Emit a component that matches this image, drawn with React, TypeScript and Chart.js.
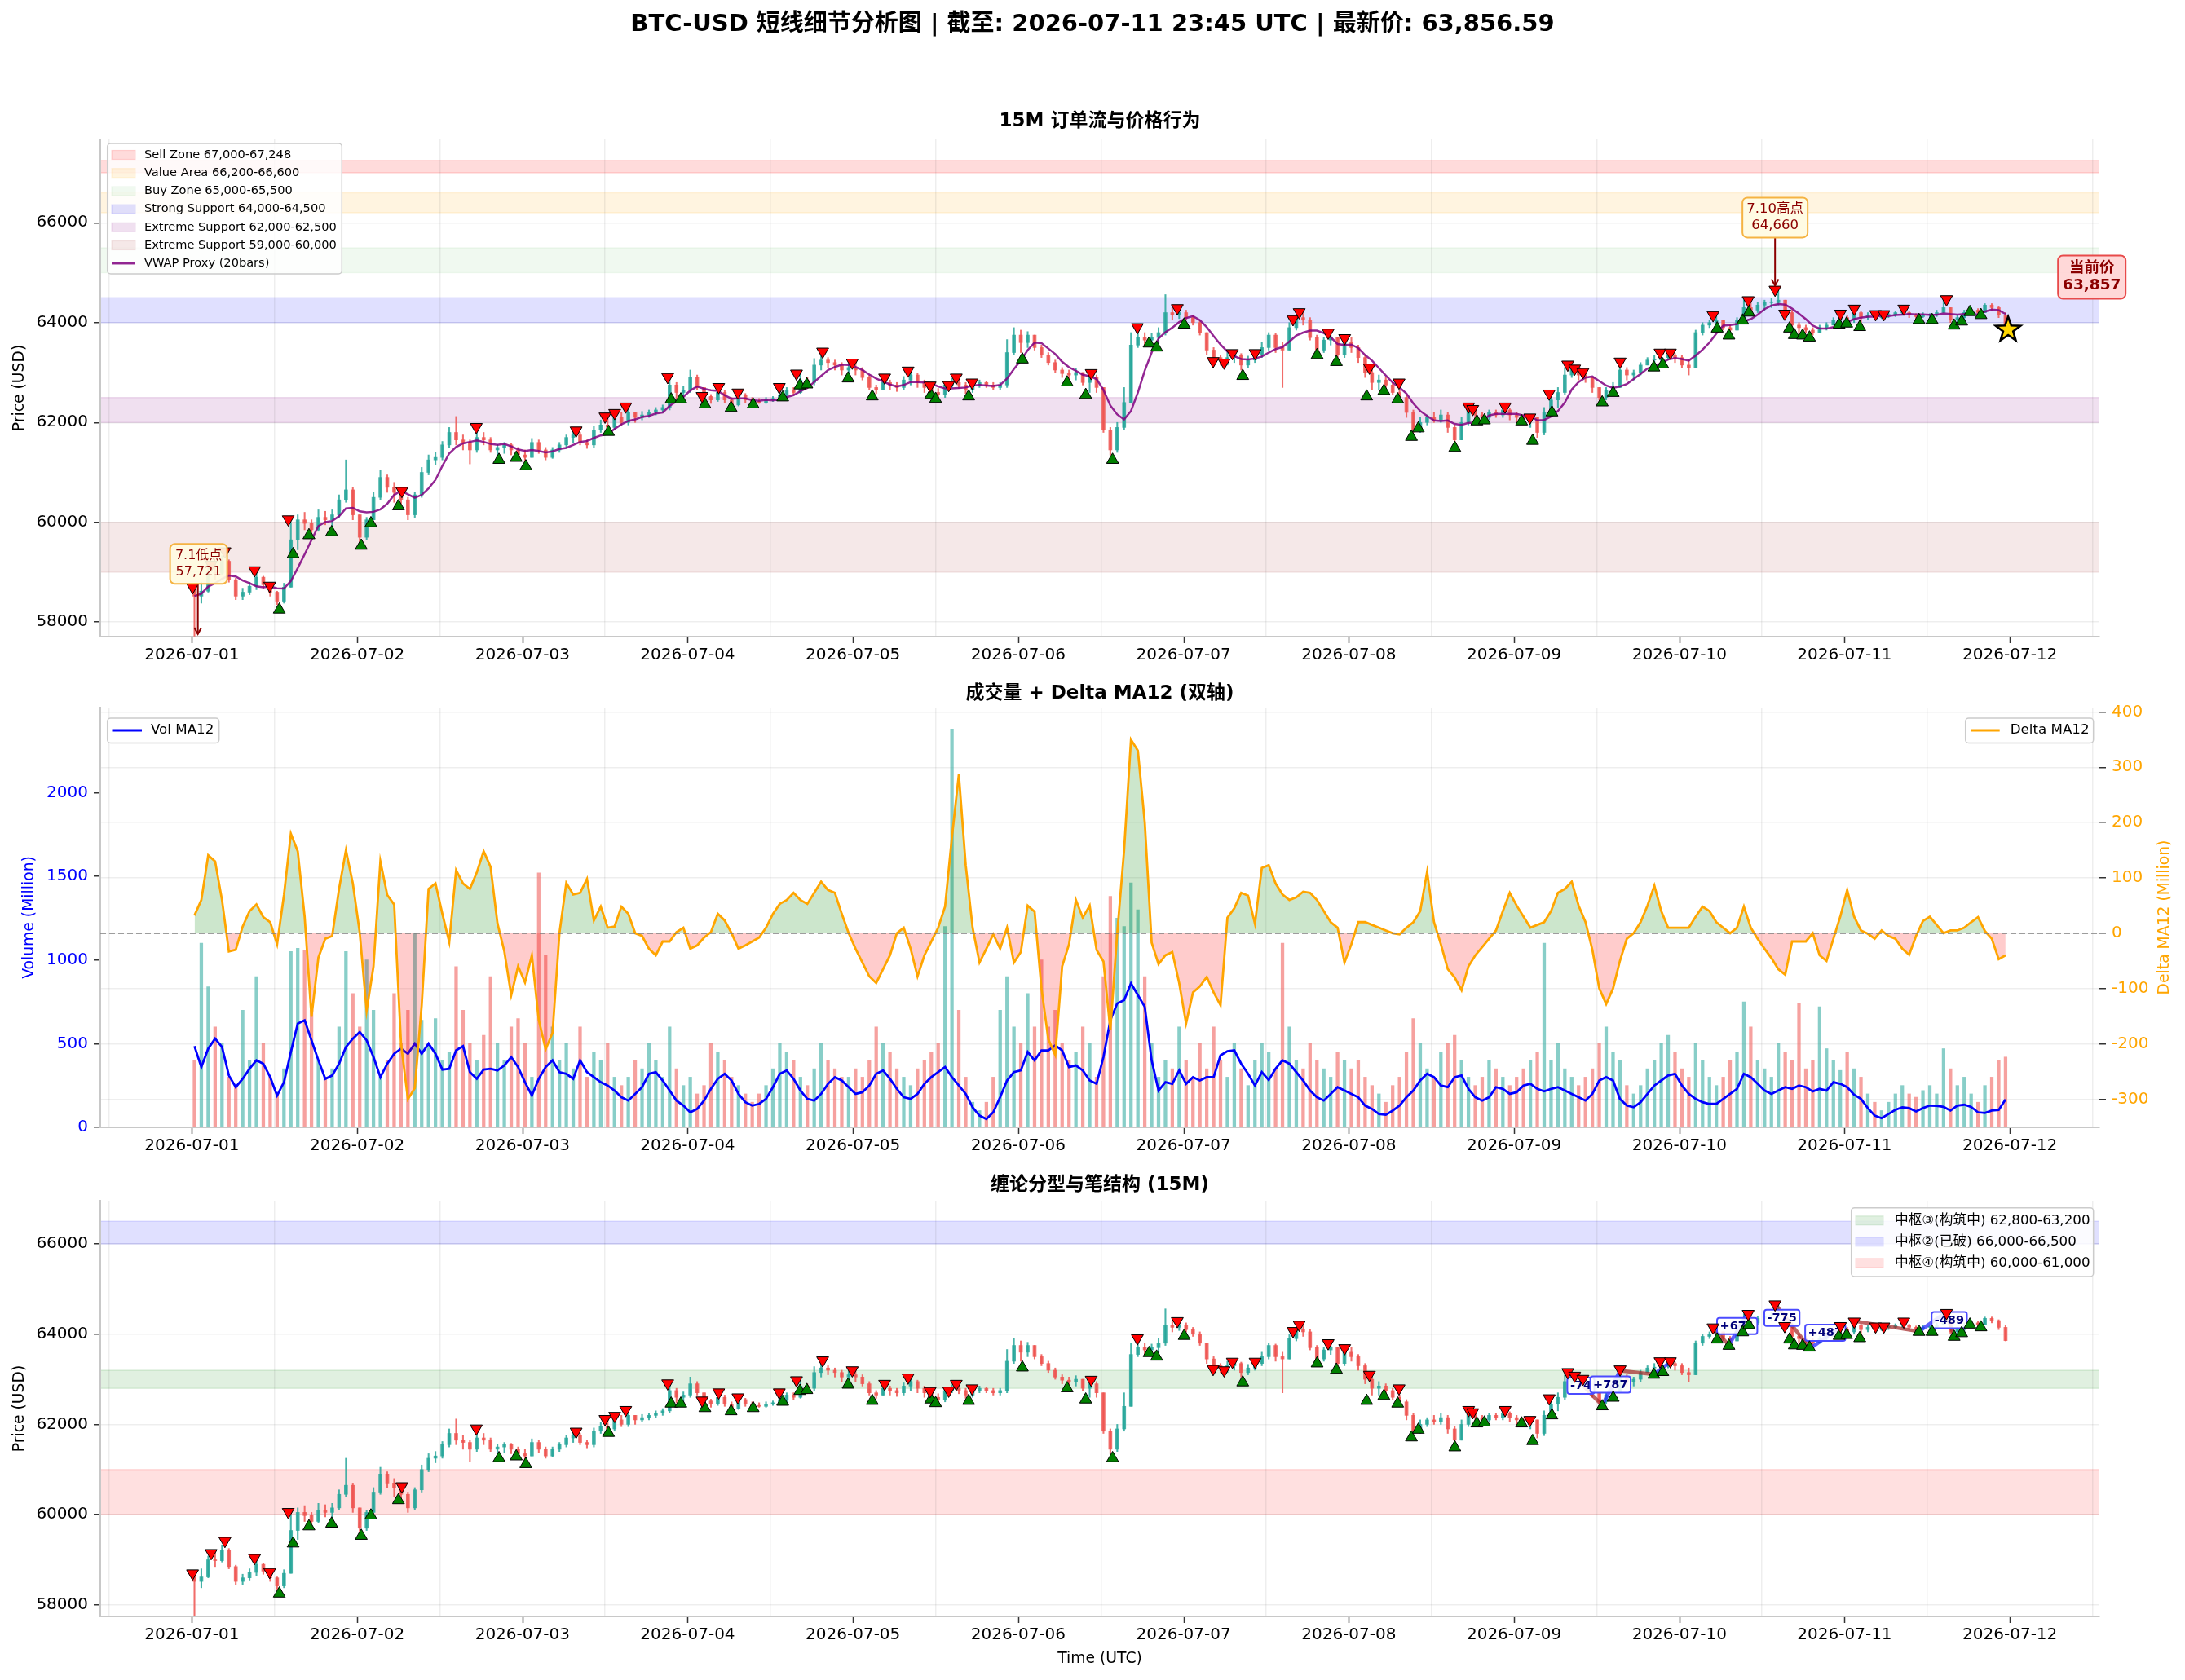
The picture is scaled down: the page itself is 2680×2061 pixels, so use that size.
import { useEffect, useRef } from 'react';
import { Chart, registerables } from 'chart.js';

Chart.register(...registerables);

// ---------------- data (15m session aggregated to hourly bars, hour 0 = 2026-07-01 00:00 UTC) ----------------
const dayLabels = ['2026-07-01', '2026-07-02', '2026-07-03', '2026-07-04', '2026-07-05', '2026-07-06', '2026-07-07', '2026-07-08', '2026-07-09', '2026-07-10', '2026-07-11', '2026-07-12'];
const dayTicks = [0, 24, 48, 72, 96, 120, 144, 168, 192, 216, 240, 264];

const firstOpen = 58650;
const closes = [
  58520, 58620, 59000, 58980, 59220, 58850, 58520, 58600, 58720, 58900, 58750, 58600, 58420, 58700, 59650, 60050, 59980, 59850, 60100, 60050, 60150, 60450, 60650, 60150,
  59700, 60050, 60500, 60900, 60700, 60600, 60450, 60150, 60550, 61000, 61250, 61300, 61550, 61800, 61650, 61600, 61450, 61700, 61650, 61450, 61500, 61550, 61450, 61350,
  61300, 61600, 61450, 61300, 61450, 61550, 61700, 61750, 61600, 61550, 61850, 61950, 61900, 62100, 62000, 62200, 62100, 62150, 62200, 62250, 62300, 62750, 62600, 62650,
  62900, 62700, 62520, 62450, 62600, 62450, 62350, 62550, 62450, 62420, 62400, 62450, 62480, 62550, 62650, 62600, 62850, 62800, 63150, 63250, 63200, 63150, 63050, 63100,
  63050, 62900, 62700, 62650, 62800, 62750, 62700, 62850, 62950, 62800, 62700, 62600, 62550, 62750, 62800, 62750, 62650, 62750, 62800, 62750, 62700, 62750, 63400, 63750,
  63600, 63750, 63500, 63350, 63200, 63050, 62980, 62950, 63000, 62800, 62900, 62700, 61850, 61450, 61900, 62400, 63550, 63700, 63650, 63700, 63800, 64200, 64150, 64200,
  64100, 64000, 63800, 63450, 63300, 63250, 63300, 63350, 63150, 63250, 63350, 63500, 63750, 63500, 63450, 63900, 64100, 64050, 63700, 63450, 63650, 63700, 63350, 63600,
  63500, 63300, 63000, 62800, 62850, 62750, 62600, 62500, 62200, 61850, 62000, 62100, 62050, 62150, 61900, 61650, 62000, 62250, 62150, 62100, 62200, 62150, 62250, 62150,
  62100, 62050, 62100, 61800, 62200, 62450, 62600, 62950, 63100, 62950, 62900, 62700, 62500, 62650, 62700, 63050, 62950, 63000, 63150, 63250, 63250, 63300, 63350, 63300,
  63150, 63100, 63800, 63950, 64000, 64050, 63900, 63850, 64050, 64300, 64250, 64350, 64400, 64400, 64450, 64200, 63950, 63900, 63850, 63800, 63900, 63950, 64050, 64100,
  64050, 64200, 64100, 64150, 64100, 64150, 64150, 64200, 64200, 64150, 64120, 64150, 64150, 64200, 64300, 64050, 64100, 64200, 64250, 64200, 64350, 64300, 64150, 63857,
];
const highs = [
  58700, 58800, 59080, 59150, 59330, 59250, 58880, 58680, 58800, 58980, 58920, 58780, 58620, 58780, 60000, 60150, 60200, 60050, 60250, 60220, 60250, 60550, 61250, 60700,
  60150, 60100, 60600, 61050, 60950, 60800, 60620, 60500, 60600, 61100, 61350, 61400, 61620, 61900, 62120, 61750, 61650, 61850, 61800, 61700, 61560, 61600, 61580, 61500,
  61450, 61680, 61650, 61500, 61500, 61600, 61750, 61850, 61800, 61650, 61920, 62050, 62100, 62180, 62200, 62320, 62200, 62220, 62250, 62300, 62350, 62900, 62800, 62720,
  63050, 62950, 62700, 62560, 62700, 62650, 62500, 62600, 62580, 62500, 62480, 62500, 62520, 62600, 62700, 62700, 62980, 62900, 63280, 63380, 63300, 63250, 63200, 63180,
  63200, 63100, 62950, 62750, 62880, 62850, 62800, 62920, 63020, 62980, 62850, 62700, 62680, 62800, 62880, 62900, 62800, 62800, 62850, 62830, 62800, 62800, 63660, 63900,
  63850, 63820, 63750, 63550, 63400, 63250, 63100, 63050, 63080, 63000, 62980, 62950, 62700, 61900, 62000, 62700, 63800, 63900, 63800, 63780, 63900, 64560, 64300, 64300,
  64250, 64150, 64050, 63800, 63500, 63350, 63400, 63420, 63380, 63330, 63400, 63600, 63800, 63780, 63600, 64000, 64150, 64200, 64100, 63750, 63700, 63780, 63700, 63680,
  63700, 63550, 63350, 63050, 62950, 62900, 62800, 62650, 62550, 62250, 62100, 62150, 62200, 62250, 62200, 61950, 62100, 62300, 62280, 62200, 62250, 62250, 62300, 62280,
  62200, 62150, 62150, 62100, 62300, 62550, 62700, 63100, 63150, 63100, 63000, 62900, 62700, 62700, 62800, 63150, 63100, 63050, 63200, 63300, 63350, 63380, 63400, 63380,
  63350, 63250, 63850, 64000, 64050, 64150, 64050, 63950, 64100, 64450, 64420, 64400, 64450, 64480, 64660, 64450, 64250, 64000, 63950, 63900, 63950, 64000, 64100, 64150,
  64150, 64250, 64220, 64200, 64150, 64180, 64200, 64230, 64260, 64220, 64180, 64200, 64180, 64250, 64450, 64300, 64150, 64250, 64300, 64280, 64380, 64380, 64320, 64200,
];
const lows = [
  57721, 58380, 58600, 58850, 58950, 58800, 58450, 58450, 58550, 58650, 58680, 58520, 58350, 58380, 58700, 59450, 59850, 59800, 59820, 59950, 59900, 60100, 60400, 60050,
  59600, 59650, 60050, 60450, 60600, 60400, 60300, 60050, 60100, 60500, 60950, 61150, 61250, 61500, 61550, 61450, 61170, 61400, 61550, 61400, 61350, 61380, 61350, 61250,
  61200, 61300, 61380, 61250, 61280, 61400, 61500, 61600, 61550, 61480, 61500, 61800, 61850, 61850, 61950, 61950, 62000, 62050, 62100, 62150, 62200, 62250, 62480, 62480,
  62600, 62650, 62450, 62380, 62420, 62400, 62300, 62330, 62400, 62380, 62380, 62380, 62420, 62450, 62500, 62550, 62580, 62680, 62750, 63050, 63100, 63050, 62950, 62950,
  62950, 62850, 62650, 62580, 62650, 62650, 62620, 62650, 62750, 62700, 62600, 62500, 62480, 62500, 62700, 62680, 62580, 62600, 62700, 62700, 62650, 62650, 62700, 63350,
  63400, 63500, 63450, 63300, 63150, 63000, 62900, 62880, 62850, 62750, 62600, 62600, 61800, 61350, 61400, 61850, 62400, 63500, 63550, 63600, 63550, 63750, 64050, 64080,
  64050, 63950, 63750, 63350, 63250, 63150, 63150, 63200, 63050, 63100, 63200, 63300, 63450, 63400, 62700, 63450, 63850, 63950, 63650, 63400, 63400, 63550, 63300, 63300,
  63400, 63200, 62900, 62650, 62650, 62700, 62550, 62500, 62100, 61800, 61800, 61950, 62000, 62000, 61800, 61600, 61650, 61950, 62050, 62050, 62050, 62100, 62100, 62050,
  62000, 62000, 61900, 61700, 61750, 62200, 62300, 62550, 62900, 62850, 62800, 62600, 62450, 62450, 62650, 62700, 62850, 62850, 62950, 63150, 63150, 63200, 63250, 63200,
  63100, 62950, 63100, 63750, 63900, 63950, 63850, 63800, 63850, 64000, 64200, 64200, 64250, 64300, 64350, 64100, 63900, 63800, 63800, 63750, 63800, 63850, 63950, 64000,
  64000, 64000, 64000, 64050, 64050, 64080, 64100, 64120, 64150, 64100, 64080, 64100, 64100, 64120, 64200, 64000, 64000, 64050, 64150, 64150, 64200, 64250, 64100, 63850,
];
// volume per bar (Million)
const volumes = [
  400, 1100, 840, 600, 500, 300, 250, 700, 400, 900, 500, 300, 200, 350, 1050, 1070, 1060, 700, 400, 300, 350, 600, 1050, 800,
  600, 1000, 700, 300, 400, 800, 500, 700, 1160, 640, 500, 650, 400, 450, 960, 700, 500, 400, 550, 900, 500, 400, 600, 650,
  500, 300, 1520, 1030, 600, 400, 500, 350, 600, 300, 450, 400, 500, 300, 250, 300, 400, 350, 500, 400, 300, 600, 350, 250,
  300, 200, 250, 500, 450, 400, 300, 250, 200, 150, 200, 250, 350, 500, 450, 400, 300, 250, 350, 500, 400, 350, 300, 300,
  350, 300, 400, 600, 500, 450, 350, 300, 250, 350, 400, 450, 500, 1200, 2380, 700, 300, 150, 100, 150, 300, 700, 900, 600,
  500, 800, 600, 1000, 600, 700, 500, 400, 450, 600, 500, 300, 900, 1380, 1250, 1200, 1460, 1300, 900, 500, 300, 400, 350, 600,
  400, 300, 500, 350, 600, 400, 300, 500, 350, 250, 400, 500, 450, 350, 1100, 600, 400, 350, 500, 400, 350, 300, 450, 400,
  350, 400, 300, 250, 200, 150, 250, 300, 450, 650, 500, 350, 300, 450, 500, 550, 400, 300, 250, 300, 400, 350, 300, 250,
  300, 350, 400, 450, 1100, 400, 500, 350, 300, 250, 300, 350, 500, 600, 450, 400, 250, 200, 250, 350, 400, 500, 550, 450,
  350, 300, 500, 400, 300, 250, 300, 400, 450, 750, 600, 400, 350, 300, 500, 450, 400, 740, 350, 400, 720, 470, 400, 340,
  450, 350, 300, 200, 150, 100, 150, 200, 250, 200, 180, 220, 250, 200, 470, 350, 250, 300, 200, 150, 250, 300, 400, 420,
];
const volMA12 = [
  485, 360, 470, 530, 480, 310, 240, 290, 350, 400, 380, 300, 190, 270, 450, 620, 640, 520, 400, 290, 310, 380, 480, 530,
  570, 520, 420, 300, 380, 440, 470, 440, 500, 440, 500, 440, 345, 350, 460, 485, 330, 290, 345, 350, 340, 370, 420, 360,
  270, 190, 290, 360, 400, 330, 320, 290, 400, 330, 300, 270, 250, 220, 180, 160, 200, 240, 320, 330, 280, 220, 160, 130,
  90, 110, 160, 230, 290, 320, 280, 200, 150, 130, 140, 170, 240, 320, 340, 290, 220, 170, 160, 200, 260, 300, 280, 240,
  200, 210, 250, 320, 340, 290, 230, 180, 170, 200, 260, 300, 330, 360, 300, 250, 200, 120, 70, 50, 90, 180, 280, 330,
  340, 450, 400, 460, 460, 490, 460, 360, 370, 340, 280, 260, 420, 640, 740, 760, 860, 790, 720, 400, 220, 270, 260, 340,
  260, 300, 280, 300, 300, 430, 455, 460, 380, 320, 250, 330, 283, 350, 400, 380, 330, 280, 220, 180, 160, 200, 240, 220,
  200, 180, 130, 110, 80, 75, 100, 130, 180, 220, 280, 320, 300, 250, 240, 300, 310, 230, 180, 160, 180, 240, 230, 200,
  210, 250, 260, 230, 215, 230, 240, 220, 200, 180, 160, 200, 280, 300, 280, 170, 130, 120, 150, 200, 250, 280, 310, 320,
  250, 200, 170, 150, 140, 140, 170, 200, 230, 320, 300, 260, 220, 200, 220, 240, 230, 250, 240, 215, 230, 220, 270, 260,
  240, 195, 170, 115, 70, 55, 80, 105, 120, 115, 95, 115, 130, 128, 122, 100, 130, 135, 122, 90, 86, 100, 104, 167,
];
const deltaMA12 = [
  32, 60, 141, 130, 60, -33, -30, 12, 40, 52, 29, 20, -20, 69, 180, 148, 30, -151, -44, -10, -5, 80, 150, 90,
  1, -140, -60, 130, 69, 52, -200, -300, -280, -130, 80, 90, 35, -16, 114, 90, 80, 110, 148, 120, 18, -33, -112, -60,
  -89, -40, -157, -210, -180, 0, 91, 70, 73, 98, 23, 48, 10, 12, 48, 35, 0, -5, -28, -40, -15, -15, 2, 10,
  -28, -22, -8, 2, 35, 23, 0, -28, -22, -15, -8, 10, 35, 53, 60, 73, 60, 53, 73, 93, 78, 73, 35, 0,
  -28, -53, -78, -90, -65, -40, 0, 10, -28, -78, -40, -15, 10, 48, 174, 287, 123, 10, -53, -28, -2, -28, 10, -53,
  -34, 50, 39, -100, -192, -220, -60, -20, 60, 28, 50, -30, -51, -175, 0, 150, 350, 330, 200, -17, -56, -40, -34, -90,
  -163, -107, -96, -79, -107, -130, 28, 45, 73, 68, 17, 118, 123, 90, 70, 60, 65, 75, 73, 60, 40, 20, 10, -53,
  -20, 20, 20, 15, 10, 5, 0, -2, 10, 20, 40, 111, 20, -20, -65, -80, -103, -60, -40, -25, -10, 5, 40, 73,
  50, 30, 10, 15, 20, 40, 73, 80, 93, 50, 20, -30, -100, -128, -100, -50, -10, 0, 20, 50, 86, 40, 10, 10,
  10, 10, 30, 48, 40, 20, 10, 0, 10, 48, 10, -10, -28, -45, -65, -75, -15, -15, -15, 0, -40, -50, -10, 30,
  78, 30, 5, -1, -10, 5, -5, -10, -28, -39, -5, 22, 30, 15, 0, 5, 5, 10, 20, 29, 4, -10, -47, -40,
];

const lastHour = 263.75;
const lastPrice = 63856.59;
const lowHour = 0.87;
const lowPrice = 57721;
const highHour = 229.9;
const highPrice = 64660;

// fractal tops / bottoms: [hour, price]
const fractalTops = [
  [0.1, 58700], [2.8, 59150], [4.8, 59420], [9.1, 59040], [11.3, 58730], [14.0, 60060], [30.5, 60630], [41.3, 61910],
  [55.8, 61840], [60.0, 62120], [61.4, 62190], [63.0, 62320], [69.1, 62910], [74.1, 62530], [76.5, 62710], [79.3, 62600],
  [85.3, 62710], [87.8, 62980], [91.6, 63420], [95.9, 63200], [100.6, 62900], [104.0, 63040], [107.2, 62740], [109.9, 62750],
  [111.0, 62900], [113.3, 62800], [130.6, 62990], [137.3, 63910], [143.1, 64290], [148.3, 63230], [149.9, 63200], [151.1, 63390],
  [154.4, 63390], [159.9, 64070], [160.8, 64210], [165.0, 63800], [167.4, 63690], [171.0, 63100], [175.3, 62800], [185.4, 62320],
  [186.0, 62270], [190.7, 62320], [194.3, 62100], [197.1, 62580], [199.8, 63160], [200.8, 63080], [202.0, 63010], [207.4, 63220],
  [213.2, 63400], [214.7, 63400], [220.9, 64150], [226.0, 64450], [229.9, 64660], [231.3, 64180], [239.4, 64180], [241.4, 64280],
  [244.5, 64170], [245.7, 64170], [248.6, 64280], [254.8, 64470],
];
const fractalBottoms = [
  [12.7, 58250], [14.7, 59360], [17.0, 59740], [20.3, 59800], [24.6, 59530], [26.0, 59980], [30.0, 60320], [44.6, 61250],
  [47.1, 61290], [48.5, 61120], [60.5, 61810], [69.6, 62460], [71.0, 62460], [74.5, 62360], [78.3, 62290], [81.5, 62360],
  [85.8, 62500], [88.3, 62740], [89.3, 62760], [95.3, 62880], [98.8, 62520], [107.3, 62550], [108.0, 62470], [112.8, 62520],
  [120.6, 63260], [127.1, 62800], [129.8, 62550], [133.7, 61250], [139.0, 63580], [140.1, 63500], [144.1, 63960], [152.6, 62930],
  [163.4, 63350], [166.2, 63210], [170.6, 62520], [173.1, 62630], [175.1, 62460], [177.1, 61710], [178.1, 61880], [183.4, 61490],
  [186.6, 62020], [187.7, 62040], [193.1, 62020], [194.7, 61630], [197.5, 62200], [204.8, 62400], [206.4, 62590], [212.3, 63100],
  [213.6, 63160], [221.5, 63880], [223.2, 63740], [225.2, 64040], [226.1, 64200], [232.0, 63880], [232.7, 63750], [233.9, 63740],
  [234.9, 63700], [239.2, 63960], [240.3, 63980], [242.2, 63910], [250.8, 64050], [252.7, 64050], [255.9, 63940], [257.0, 64020],
  [258.2, 64210], [259.8, 64150],
];

const zoneNames = ['Sell Zone 67,000-67,248', 'Value Area 66,200-66,600', 'Buy Zone 65,000-65,500', 'Strong Support 64,000-64,500', 'Extreme Support 62,000-62,500', 'Extreme Support 59,000-60,000'];
const zoneLows = [67000, 66200, 65000, 64000, 62000, 59000];
const zoneHighs = [67248, 66600, 65500, 64500, 62500, 60000];

const pivotNames = ['中枢③(构筑中) 62,800-63,200', '中枢②(已破) 66,000-66,500', '中枢④(构筑中) 60,000-61,000'];
const pivotLows = [62800, 66000, 60000];
const pivotHighs = [63200, 66500, 61000];

// 笔 strokes: [startHour, startPrice, endHour, endPrice]
const biDown = [
  [200.7, 63070, 204.8, 62420], [207.4, 63190, 212.3, 63110], [220.9, 64130, 223.2, 63760],
  [230.0, 64650, 235.0, 63680], [241.4, 64290, 250.8, 64060], [254.7, 64480, 255.9, 63960],
];
const biUp = [
  [204.8, 62420, 207.4, 63190], [212.3, 63110, 214.7, 63380], [223.2, 63760, 225.9, 64460],
  [235.0, 63680, 239.7, 64200], [250.8, 64060, 254.7, 64480],
];
const biText = ['-74', '+787', '+671', '-775', '+487', '-489'];
const biHour = [201.7, 206.0, 224.4, 230.9, 237.2, 255.2];
const biPrice = [62856, 62886, 64180, 64360, 64030, 64310];

// ---------------- styling / layout ----------------
const FONT = "'DejaVu Sans', 'Noto Sans CJK SC', sans-serif";
const W = 2680;
const X_MIN = -13.3;
const X_MAX = 277.0;
const GRID = 'rgba(0,0,0,0.065)';
const TICK = '#333333';
const SPINE = '#c8c8c8';
const UP = 'rgba(38,166,154,0.85)';
const DN = 'rgba(239,83,80,0.85)';
const VOL_UP = 'rgba(38,166,154,0.55)';
const VOL_DN = 'rgba(239,83,80,0.55)';
const VWAP_COLOR = 'rgba(128,0,128,0.85)';
const ZONE_FILLS = ['rgba(255,0,0,0.14)', 'rgba(255,165,0,0.12)', 'rgba(0,160,0,0.06)', 'rgba(0,0,255,0.12)', 'rgba(128,0,128,0.12)', 'rgba(139,0,0,0.09)'];
const PIVOT_FILLS = ['rgba(0,128,0,0.12)', 'rgba(0,0,255,0.12)', 'rgba(255,0,0,0.12)'];

const C1 = { top: 0, h: 830, areaTop: 171, areaBottom: 781 };
const C2 = { top: 830, h: 590, areaTop: 868, areaBottom: 1383 };
const C3 = { top: 1420, h: 641, areaTop: 1473, areaBottom: 1983 };

const opens = closes.map((c, i) => (i === 0 ? firstOpen : closes[i - 1]));
const barX = (i: number) => i + 0.375;
const upFlags = closes.map((c, i) => c >= opens[i]);
const vwap = closes.map((_, i) => {
  const w = closes.slice(Math.max(0, i - 4), i + 1);
  return w.reduce((a, b) => a + b, 0) / w.length;
});

// ---------------- drawing helpers ----------------
function text(ctx: any, s: string, x: number, y: number, size: number, color: string, bold = false, align = 'center') {
  ctx.font = `${bold ? 'bold ' : ''}${size}px ${FONT}`;
  ctx.fillStyle = color;
  ctx.textAlign = align;
  ctx.textBaseline = 'middle';
  ctx.fillText(s, x, y);
}
function vtext(ctx: any, s: string, x: number, y: number, size: number, color: string) {
  ctx.save();
  ctx.translate(x, y);
  ctx.rotate(-Math.PI / 2);
  text(ctx, s, 0, 0, size, color);
  ctx.restore();
}
function roundBox(ctx: any, x: number, y: number, w: number, h: number, r: number, fill: string, stroke: string, lw: number) {
  ctx.beginPath();
  ctx.roundRect(x, y, w, h, r);
  ctx.fillStyle = fill;
  ctx.fill();
  ctx.strokeStyle = stroke;
  ctx.lineWidth = lw;
  ctx.stroke();
}
function arrow(ctx: any, x1: number, y1: number, x2: number, y2: number, color: string) {
  ctx.save();
  ctx.strokeStyle = color;
  ctx.lineWidth = 2;
  ctx.beginPath();
  ctx.moveTo(x1, y1);
  ctx.lineTo(x2, y2);
  ctx.stroke();
  const a = Math.atan2(y2 - y1, x2 - x1);
  const L = 9;
  ctx.beginPath();
  ctx.moveTo(x2 - L * Math.cos(a - 0.5), y2 - L * Math.sin(a - 0.5));
  ctx.lineTo(x2, y2);
  ctx.lineTo(x2 - L * Math.cos(a + 0.5), y2 - L * Math.sin(a + 0.5));
  ctx.stroke();
  ctx.restore();
}
function star(ctx: any, cx: number, cy: number, R: number, r: number) {
  ctx.save();
  ctx.beginPath();
  for (let k = 0; k < 10; k++) {
    const rad = k % 2 === 0 ? R : r;
    const a = -Math.PI / 2 + (k * Math.PI) / 5;
    const px = cx + rad * Math.cos(a);
    const py = cy + rad * Math.sin(a);
    if (k === 0) ctx.moveTo(px, py);
    else ctx.lineTo(px, py);
  }
  ctx.closePath();
  ctx.fillStyle = '#FFD700';
  ctx.fill();
  ctx.lineWidth = 2.6;
  ctx.strokeStyle = '#000';
  ctx.lineJoin = 'miter';
  ctx.stroke();
  ctx.restore();
}
function bands(chart: any, los: number[], his: number[], fills: string[]) {
  const { ctx, chartArea: a } = chart;
  const y = chart.scales.y;
  ctx.save();
  ctx.beginPath();
  ctx.rect(a.left, a.top, a.right - a.left, a.bottom - a.top);
  ctx.clip();
  los.forEach((lo, i) => {
    const y1 = y.getPixelForValue(his[i]);
    const y2 = y.getPixelForValue(lo);
    ctx.fillStyle = fills[i];
    ctx.fillRect(a.left, y1, a.right - a.left, y2 - y1);
    ctx.strokeStyle = fills[i];
    ctx.lineWidth = 1.5;
    ctx.beginPath();
    ctx.moveTo(a.left, y1);
    ctx.lineTo(a.right, y1);
    ctx.moveTo(a.left, y2);
    ctx.lineTo(a.right, y2);
    ctx.stroke();
  });
  ctx.restore();
}
function patch(ctx: any, x: number, cy: number, w: number, h: number, fill: string) {
  ctx.fillStyle = fill;
  ctx.fillRect(x, cy - h / 2, w, h);
  ctx.strokeStyle = fill;
  ctx.lineWidth = 1.2;
  ctx.strokeRect(x, cy - h / 2, w, h);
}
// day tick marks below the time axis
function dayTickMarks(chart: any) {
  const { ctx, chartArea: a } = chart;
  const x = chart.scales.x;
  ctx.save();
  ctx.strokeStyle = TICK;
  ctx.lineWidth = 1.5;
  ctx.beginPath();
  dayTicks.forEach((v) => {
    const px = Math.round(x.getPixelForValue(v)) + 0.5;
    ctx.moveTo(px, a.bottom + 1);
    ctx.lineTo(px, a.bottom + 8);
  });
  ctx.stroke();
  ctx.restore();
}

// ---------------- scales ----------------
function xAxis(height: number) {
  return {
    type: 'linear',
    min: X_MIN,
    max: X_MAX,
    offset: false,
    afterBuildTicks: (s: any) => {
      s.ticks = dayTicks.map((v) => ({ value: v }));
    },
    afterFit: (s: any) => {
      s.height = height;
    },
    ticks: {
      autoSkip: false,
      maxRotation: 0,
      minRotation: 0,
      padding: 11,
      color: '#000',
      font: { family: FONT, size: 20 },
      callback: (_v: any, i: number) => dayLabels[i],
    },
    grid: { color: GRID, lineWidth: 1.5, drawTicks: false },
    border: { display: true, color: SPINE, width: 2 },
  };
}
function yAxis(min: number, max: number, ticks: number[], opts: any) {
  return {
    type: 'linear',
    position: opts.position || 'left',
    min,
    max,
    afterBuildTicks: (s: any) => {
      s.ticks = ticks.map((v) => ({ value: v }));
    },
    afterFit: (s: any) => {
      s.width = opts.width;
    },
    ticks: { color: opts.color || '#000', padding: 7, font: { family: FONT, size: 20 }, callback: (v: any) => String(v) },
    grid: {
      drawOnChartArea: opts.grid !== false,
      color: GRID,
      lineWidth: 1.5,
      tickLength: 8,
      tickColor: TICK,
      tickWidth: 1.5,
    },
    border: { display: opts.border !== false, color: SPINE, width: 2 },
  };
}

function candleSets() {
  const colors = upFlags.map((u) => (u ? UP : DN));
  return [
    {
      type: 'bar',
      label: 'body',
      data: closes.map((c, i) => ({ x: barX(i), y: [opens[i], c] })),
      backgroundColor: colors,
      barThickness: 4,
      grouped: false,
      minBarLength: 1,
      order: 10,
    },
    {
      type: 'bar',
      label: 'wick',
      data: closes.map((_, i) => ({ x: barX(i), y: [lows[i], highs[i]] })),
      backgroundColor: colors,
      barThickness: 1.4,
      grouped: false,
      order: 11,
    },
  ];
}
function fractalSets() {
  return [
    {
      type: 'scatter',
      label: 'tops',
      data: fractalTops.map(([h, p]) => ({ x: h, y: p })),
      pointStyle: 'triangle',
      pointRotation: 180,
      pointRadius: 8.5,
      pointBackgroundColor: '#ff0000',
      pointBorderColor: '#000',
      pointBorderWidth: 1,
      order: 0,
    },
    {
      type: 'scatter',
      label: 'bottoms',
      data: fractalBottoms.map(([h, p]) => ({ x: h, y: p })),
      pointStyle: 'triangle',
      pointRadius: 8.5,
      pointBackgroundColor: '#008000',
      pointBorderColor: '#000',
      pointBorderWidth: 1,
      order: 0,
    },
  ];
}

const baseOptions = (padding: any, scales: any) => ({
  animation: false,
  responsive: false,
  maintainAspectRatio: false,
  devicePixelRatio: 1,
  events: [],
  layout: { padding },
  plugins: { legend: { display: false }, tooltip: { enabled: false }, title: { display: false } },
  scales,
});

// ---------------- panel 1: 15M order flow & price ----------------
const panel1Plugin = {
  id: 'panel1Deco',
  beforeDraw(chart: any) {
    bands(chart, zoneLows, zoneHighs, ZONE_FILLS);
  },
  afterDatasetsDraw(chart: any) {
    const { ctx } = chart;
    const { x, y } = chart.scales;
    star(ctx, x.getPixelForValue(lastHour), y.getPixelForValue(lastPrice), 16, 6.5);

    // 7.1 low
    const lx = x.getPixelForValue(lowHour);
    const bx = x.getPixelForValue(0.98);
    const by = y.getPixelForValue(59168);
    arrow(ctx, lx, by + 24, lx, y.getPixelForValue(lowPrice + 40), '#8b0000');
    roundBox(ctx, bx - 35, by - 24.5, 70, 49, 6, 'rgba(255,251,225,0.92)', '#f5b342', 2);
    text(ctx, '7.1低点', bx, by - 10, 16, '#8b0000');
    text(ctx, lowPrice.toLocaleString('en-US'), bx, by + 10, 16, '#8b0000');

    // 7.10 high
    const hx = x.getPixelForValue(highHour);
    const hy = y.getPixelForValue(66104);
    arrow(ctx, hx, hy + 24, hx, y.getPixelForValue(highPrice + 80), '#8b0000');
    roundBox(ctx, hx - 40, hy - 24.5, 80, 49, 6, 'rgba(255,251,225,0.95)', '#f5b342', 2);
    text(ctx, '7.10高点', hx, hy - 10.3, 16.5, '#8b0000');
    text(ctx, highPrice.toLocaleString('en-US'), hx, hy + 10.3, 16.5, '#8b0000');

    // current price
    const cx = x.getPixelForValue(275.9);
    const cy = y.getPixelForValue(64910);
    roundBox(ctx, cx - 41.5, cy - 26.5, 83, 53, 6, 'rgba(255,214,214,0.95)', '#e84a4a', 2);
    text(ctx, '当前价', cx, cy - 11, 18.5, '#8b0000', true);
    text(ctx, Math.round(lastPrice).toLocaleString('en-US'), cx, cy + 10.5, 18.5, '#8b0000', true);

    // legend
    roundBox(ctx, 131.7, 176, 287.6, 160, 4, 'rgba(255,255,255,0.82)', '#cccccc', 1.5);
    zoneNames.forEach((name, i) => {
      const ry = 190 + i * 22.2;
      patch(ctx, 137, ry, 29, 11, ZONE_FILLS[i]);
      text(ctx, name, 177, ry, 14.6, '#000', false, 'left');
    });
    const vy = 190 + 6 * 22.2;
    ctx.strokeStyle = VWAP_COLOR;
    ctx.lineWidth = 2.5;
    ctx.beginPath();
    ctx.moveTo(137, vy);
    ctx.lineTo(166, vy);
    ctx.stroke();
    text(ctx, 'VWAP Proxy (20bars)', 177, vy, 14.6, '#000', false, 'left');
  },
  afterDraw(chart: any) {
    const { ctx } = chart;
    dayTickMarks(chart);
    text(ctx, 'BTC-USD 短线细节分析图 | 截至: 2026-07-11 23:45 UTC | 最新价: 63,856.59', 1340, 30, 29, '#000', true);
    text(ctx, '15M 订单流与价格行为', 1349, 149, 23, '#000', true);
    vtext(ctx, 'Price (USD)', 24, 476, 18.75, '#000');
  },
};

function panel1Config() {
  return {
    type: 'line',
    data: {
      datasets: [
        ...fractalSets(),
        {
          type: 'line',
          label: 'VWAP Proxy (20bars)',
          data: vwap.map((v, i) => ({ x: barX(i), y: v })),
          borderColor: VWAP_COLOR,
          borderWidth: 2.5,
          pointRadius: 0,
          tension: 0,
          order: 2,
        },
        ...candleSets(),
      ],
    },
    options: baseOptions(
      { top: C1.areaTop - C1.top, right: W - 2575, bottom: 0, left: 0 },
      {
        x: xAxis(C1.h - (C1.areaBottom - C1.top)),
        y: yAxis(57710, 67670, [58000, 60000, 62000, 64000, 66000], { width: 123 }),
      }
    ),
    plugins: [panel1Plugin],
  };
}

// ---------------- panel 2: volume + delta ----------------
const panel2Plugin = {
  id: 'panel2Deco',
  afterDatasetsDraw(chart: any) {
    const { ctx, chartArea: a } = chart;
    const y0 = chart.scales.y2.getPixelForValue(0);
    ctx.save();
    ctx.setLineDash([7, 4]);
    ctx.strokeStyle = '#808080';
    ctx.lineWidth = 1.6;
    ctx.beginPath();
    ctx.moveTo(a.left, y0);
    ctx.lineTo(a.right, y0);
    ctx.stroke();
    ctx.restore();

    const t = C2.top;
    roundBox(ctx, 131.7, 881 - t, 137, 30.5, 4, 'rgba(255,255,255,0.85)', '#cccccc', 1.5);
    ctx.strokeStyle = '#0000ff';
    ctx.lineWidth = 2.8;
    ctx.beginPath();
    ctx.moveTo(137.5, 896 - t);
    ctx.lineTo(174, 896 - t);
    ctx.stroke();
    text(ctx, 'Vol MA12', 185, 896 - t, 16.7, '#000', false, 'left');

    roundBox(ctx, 2410.7, 881 - t, 157, 30.5, 4, 'rgba(255,255,255,0.85)', '#cccccc', 1.5);
    ctx.strokeStyle = '#ffa500';
    ctx.lineWidth = 2.8;
    ctx.beginPath();
    ctx.moveTo(2417, 896 - t);
    ctx.lineTo(2452.7, 896 - t);
    ctx.stroke();
    text(ctx, 'Delta MA12', 2465.7, 896 - t, 16.7, '#000', false, 'left');
  },
  afterDraw(chart: any) {
    const { ctx } = chart;
    const t = C2.top;
    dayTickMarks(chart);
    text(ctx, '成交量 + Delta MA12 (双轴)', 1349, 851 - t, 23, '#000', true);
    vtext(ctx, 'Volume (Million)', 36.6, 1125.5 - t, 18.75, '#0000ff');
    vtext(ctx, 'Delta MA12 (Million)', 2655, 1125.5 - t, 18.75, '#ffa500');
  },
};

function panel2Config() {
  return {
    type: 'line',
    data: {
      datasets: [
        {
          type: 'line',
          label: 'Delta MA12',
          yAxisID: 'y2',
          data: deltaMA12.map((v, i) => ({ x: barX(i), y: v })),
          borderColor: '#ffa500',
          borderWidth: 2.8,
          pointRadius: 0,
          tension: 0,
          fill: { target: { value: 0 }, above: 'rgba(0,128,0,0.2)', below: 'rgba(255,0,0,0.2)' },
          order: 0,
        },
        {
          type: 'line',
          label: 'Vol MA12',
          yAxisID: 'y',
          data: volMA12.map((v, i) => ({ x: barX(i), y: v })),
          borderColor: '#0000ff',
          borderWidth: 2.8,
          pointRadius: 0,
          tension: 0,
          order: 1,
        },
        {
          type: 'bar',
          label: 'Volume',
          yAxisID: 'y',
          data: volumes.map((v, i) => ({ x: barX(i), y: v })),
          backgroundColor: upFlags.map((u) => (u ? VOL_UP : VOL_DN)),
          barThickness: 3.6,
          grouped: false,
          order: 2,
        },
      ],
    },
    options: baseOptions(
      { top: C2.areaTop - C2.top, right: 0, bottom: 0, left: 0 },
      {
        x: xAxis(C2.h - (C2.areaBottom - C2.top)),
        y: yAxis(0, 2508, [0, 500, 1000, 1500, 2000], { width: 123, color: '#0000ff', grid: false }),
        y2: yAxis(-351, 408, [-300, -200, -100, 0, 100, 200, 300, 400], {
          width: W - 2575,
          color: '#ffa500',
          position: 'right',
          border: false,
        }),
      }
    ),
    plugins: [panel2Plugin],
  };
}

// ---------------- panel 3: fractals & strokes ----------------
const panel3Plugin = {
  id: 'panel3Deco',
  beforeDraw(chart: any) {
    bands(chart, pivotLows, pivotHighs, PIVOT_FILLS);
  },
  afterDatasetDraw(chart: any, args: any) {
    if (chart.data.datasets[args.index].label !== 'bi-top') return;
    const { ctx } = chart;
    const { x, y } = chart.scales;
    biText.forEach((s, i) => {
      const px = x.getPixelForValue(biHour[i]);
      const py = y.getPixelForValue(biPrice[i]);
      ctx.font = `bold 14.5px ${FONT}`;
      const w = ctx.measureText(s).width + 7;
      roundBox(ctx, px - w / 2, py - 10, w, 20, 3, 'rgba(255,255,255,0.88)', '#4b4bff', 2);
      text(ctx, s, px, py + 0.5, 14.5, '#00007a', true);
    });
  },
  afterDatasetsDraw(chart: any) {
    const { ctx } = chart;
    const t = C3.top;
    roundBox(ctx, 2270.7, 1481.7 - t, 297, 84.3, 4, 'rgba(255,255,255,0.85)', '#cccccc', 1.5);
    pivotNames.forEach((name, i) => {
      const ry = 1497.3 + i * 26 - t;
      patch(ctx, 2276, ry, 34, 11, PIVOT_FILLS[i]);
      text(ctx, name, 2324, ry, 16.7, '#000', false, 'left');
    });
  },
  afterDraw(chart: any) {
    const { ctx } = chart;
    const t = C3.top;
    dayTickMarks(chart);
    text(ctx, '缠论分型与笔结构 (15M)', 1349, 1454 - t, 23, '#000', true);
    vtext(ctx, 'Price (USD)', 24, 1728 - t, 18.75, '#000');
    text(ctx, 'Time (UTC)', 1349, 2035 - t, 18.75, '#000');
  },
};

function strokeSet(s: number[], color: string, label: string, order: number) {
  return {
    type: 'line',
    label,
    data: [
      { x: s[0], y: s[1] },
      { x: s[2], y: s[3] },
    ],
    borderColor: color,
    borderWidth: 4.5,
    pointRadius: 0,
    tension: 0,
    order,
  };
}

function panel3Config() {
  return {
    type: 'line',
    data: {
      datasets: [
        ...fractalSets(),
        ...biDown.map((s, i) => strokeSet(s, 'rgba(165,42,42,0.72)', i === 0 ? 'bi-top' : 'bi-down', i === 0 ? 4 : 5)),
        ...biUp.map((s) => strokeSet(s, 'rgba(40,40,255,0.75)', 'bi-up', 5)),
        ...candleSets(),
      ],
    },
    options: baseOptions(
      { top: C3.areaTop - C3.top, right: W - 2575, bottom: 0, left: 0 },
      {
        x: xAxis(C3.h - (C3.areaBottom - C3.top)),
        y: yAxis(57745, 66957, [58000, 60000, 62000, 64000, 66000], { width: 123 }),
      }
    ),
    plugins: [panel3Plugin],
  };
}

export default function App() {
  const r1 = useRef<HTMLCanvasElement>(null);
  const r2 = useRef<HTMLCanvasElement>(null);
  const r3 = useRef<HTMLCanvasElement>(null);

  useEffect(() => {
    const charts = [
      new Chart(r1.current as any, panel1Config() as any),
      new Chart(r2.current as any, panel2Config() as any),
      new Chart(r3.current as any, panel3Config() as any),
    ];
    return () => charts.forEach((c) => c.destroy());
  }, []);

  const cs = (c: any) => ({ position: 'absolute' as const, left: 0, top: c.top, width: W, height: c.h, display: 'block' });
  return (
    <div style={{ position: 'absolute', left: 0, top: 0, width: W, height: 2061, background: '#fff', overflow: 'hidden' }}>
      <canvas ref={r1} width={W} height={C1.h} style={cs(C1)} />
      <canvas ref={r2} width={W} height={C2.h} style={cs(C2)} />
      <canvas ref={r3} width={W} height={C3.h} style={cs(C3)} />
    </div>
  );
}
